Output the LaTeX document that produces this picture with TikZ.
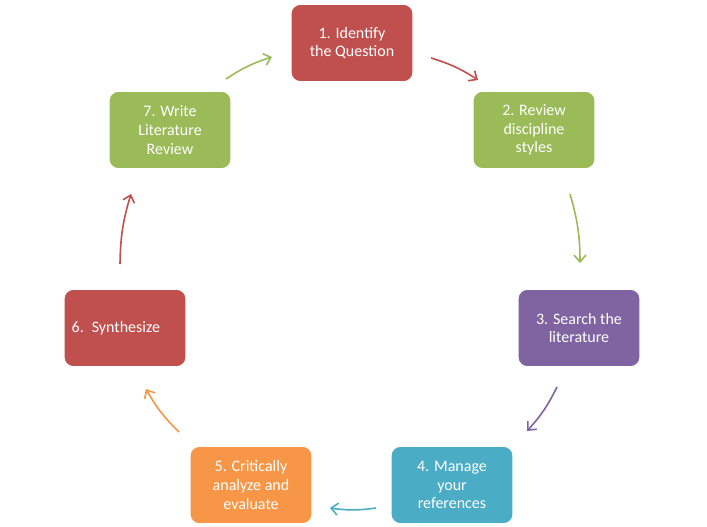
\documentclass[tikz,border=0pt]{standalone}
\usepackage{fontspec}
\setmainfont{Carlito}
\usetikzlibrary{arrows.meta}
\definecolor{cred}{HTML}{C0504D}
\definecolor{cgreen}{HTML}{9BBB59}
\definecolor{cpurple}{HTML}{8064A2}
\definecolor{cteal}{HTML}{4BACC6}
\definecolor{corange}{HTML}{F79646}
\begin{document}
\begin{tikzpicture}[x=0.75pt,y=-0.75pt,
  box/.style={draw=white,line width=0.8pt,rounded corners=7pt,minimum width=91.5pt,minimum height=58pt,text=white,align=center,font=\fontsize{12}{14}\selectfont,inner sep=2pt},
  arr/.style={line width=1.2pt,-{Straight Barb[length=5pt,width=9pt]}}]
\useasboundingbox[fill=white] (0,0) rectangle (707,527);
\node[box,fill=cred] (n1) at (352,43) {1. Identify\\the Question};
\node[box,fill=cgreen] (n2) at (534,130) {2. Review\\discipline\\styles};
\node[box,fill=cpurple] (n3) at (579,328) {3. Search the\\literature};
\node[box,fill=cteal] (n4) at (452,485) {4. Manage\\your\\references};
\node[box,fill=corange] (n5) at (251,485) {5. Critically\\analyze and\\evaluate};
\node[box,fill=cred,text width=80pt,align=left] (n6) at (125,328) {6. Synthesize};
\node[box,fill=cgreen] (n7) at (170,130) {7. Write\\Literature\\Review};
\coordinate (a1) at (431,58); \coordinate (b1) at (478,80);
\coordinate (a2) at (570,194); \coordinate (b2) at (580,263);
\coordinate (a3) at (557,387); \coordinate (b3) at (527,431);
\coordinate (a4) at (376,508); \coordinate (b4) at (330,508);
\coordinate (a5) at (179,432); \coordinate (b5) at (146,389);
\coordinate (a6) at (120,264); \coordinate (b6) at (131,194);
\coordinate (a7) at (226,79); \coordinate (b7) at (272,57);
\draw[arr,cred] (a1) to[bend left=8] (b1);
\draw[arr,cgreen] (a2) to[bend left=8] (b2);
\draw[arr,cpurple] (a3) to[bend left=8] (b3);
\draw[arr,cteal] (a4) to[bend left=8] (b4);
\draw[arr,corange] (a5) to[bend left=8] (b5);
\draw[arr,cred] (a6) to[bend left=8] (b6);
\draw[arr,cgreen] (a7) to[bend left=8] (b7);
\end{tikzpicture}
\end{document}
